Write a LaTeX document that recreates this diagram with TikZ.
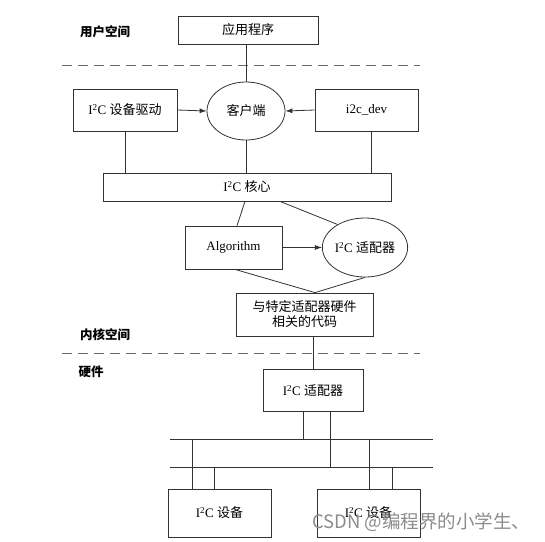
\documentclass[tikz,border=0pt]{standalone}
\usepackage{fontspec}
\usepackage{tikz}
\usetikzlibrary{shapes.geometric,arrows.meta}
\setmainfont{Liberation Serif}
\newfontfamily\cjk{Noto Sans CJK SC}
\newcommand{\zh}[1]{{\cjk #1}}
\newcommand{\iic}{I\textsuperscript{2}C}

\begin{document}
\begin{tikzpicture}[x=1pt,y=-1pt,
  line/.style={draw=black!80, line width=0.8pt},
  blk/.style={line, rectangle, inner sep=0pt, font=\fontsize{13}{15}\selectfont},
  ell/.style={line, ellipse, inner sep=0pt, font=\fontsize{13}{15}\selectfont},
  layer/.style={font=\fontsize{12.5}{14}\selectfont\bfseries},
  sep/.style={draw=black!60, line width=1pt, dash pattern=on 10pt off 6pt},
  conn/.style={line},
  arr/.style={line, -{Latex[length=7pt,width=5pt]}}]
\useasboundingbox (0,0) rectangle (545,541);

% layer separators
\draw[sep] (62,65) -- (420,65);
\draw[sep] (62,353) -- (420,353);
\node[layer] (user) at (105,32) {\zh{用户空间}};
\node[layer] (kernel) at (105,335) {\zh{内核空间}};
\node[layer] (hw) at (91,372) {\zh{硬件}};

% user space
\node[blk, minimum width=140pt, minimum height=28pt] (app) at (248,30) {\zh{应用程序}};

% kernel space
\node[blk, minimum width=104pt, minimum height=42pt] (drv) at (125,110) {\iic\ \zh{设备驱动}};
\node[ell, minimum width=78pt, minimum height=58pt] (client) at (246,111) {\zh{客户端}};
\node[blk, minimum width=103pt, minimum height=42pt] (dev) at (366.5,110) {i2c\_dev};
\node[blk, minimum width=288pt, minimum height=28pt] (core) at (247,187) {\iic\ \zh{核心}};
\node[blk, minimum width=97pt, minimum height=43pt] (algo) at (233.5,247.5) {Algorithm};
\node[ell, minimum width=84pt, minimum height=59pt] (adap) at (365,247.5) {\iic\ \zh{适配器}};
\node[blk, minimum width=137pt, minimum height=43pt, align=center] (code) at (304.5,314.5) {\zh{与特定适配器硬件}\\\zh{相关的代码}};
\coordinate (codein) at ([xshift=10.5pt]code.north);

% hardware
\node[blk, minimum width=100pt, minimum height=42pt] (hwadap) at (313,390.5) {\iic\ \zh{适配器}};
\node[blk, minimum width=103pt, minimum height=48pt] (dev1) at (219.5,513) {\iic\ \zh{设备}};
\node[blk, minimum width=103pt, minimum height=48pt] (dev2) at (368.5,513) {\iic\ \zh{设备}};
\coordinate (sda w) at (170,439);
\coordinate (sda e) at (433,439);
\coordinate (scl w) at (170,467);
\coordinate (scl e) at (433,467);

% connections
\draw[conn] (client.north |- app.south) -- (client.north);
\draw[arr] (drv.east) -- (client.west);
\draw[arr] (dev.west) -- (client.east);
\draw[conn] (drv.south) -- (drv.south |- core.north);
\draw[conn] (client.south) -- (client.south |- core.north);
\draw[conn] ([xshift=4.5pt]dev.south) -- ([xshift=4.5pt]dev.south |- core.north);
\draw[conn] ([xshift=-2pt]core.south) -- ([xshift=3.5pt]algo.north);
\draw[conn] ([xshift=33pt]core.south) -- (adap.140);
\draw[arr] (algo.east) -- (adap.west);
\draw[conn] ([xshift=1.5pt]algo.south) -- (codein);
\draw[conn] (adap.south) -- (codein);
\draw[conn] (code.south -| hwadap.north) -- (hwadap.north);

% bus
\draw[conn] (sda w) -- (sda e);
\draw[conn] (scl w) -- (scl e);
\draw[conn] ([xshift=-10pt]hwadap.south) -- ([xshift=-10pt]hwadap.south |- sda w);
\draw[conn] ([xshift=17pt]hwadap.south) -- ([xshift=17pt]hwadap.south |- scl w);
\draw[conn] ([xshift=-27.5pt]dev1.north) -- ([xshift=-27.5pt]dev1.north |- sda w);
\draw[conn] ([xshift=-5.5pt]dev1.north) -- ([xshift=-5.5pt]dev1.north |- scl w);
\draw[conn] ([xshift=0.5pt]dev2.north) -- ([xshift=0.5pt]dev2.north |- sda w);
\draw[conn] ([xshift=23.5pt]dev2.north) -- ([xshift=23.5pt]dev2.north |- scl w);

% watermark
\node[anchor=west, text=black!45, font=\cjk\fontsize{18.5}{20}\selectfont, inner sep=0pt] (mark) at (312,522) {CSDN @编程界的小学生、};
\end{tikzpicture}
\end{document}
